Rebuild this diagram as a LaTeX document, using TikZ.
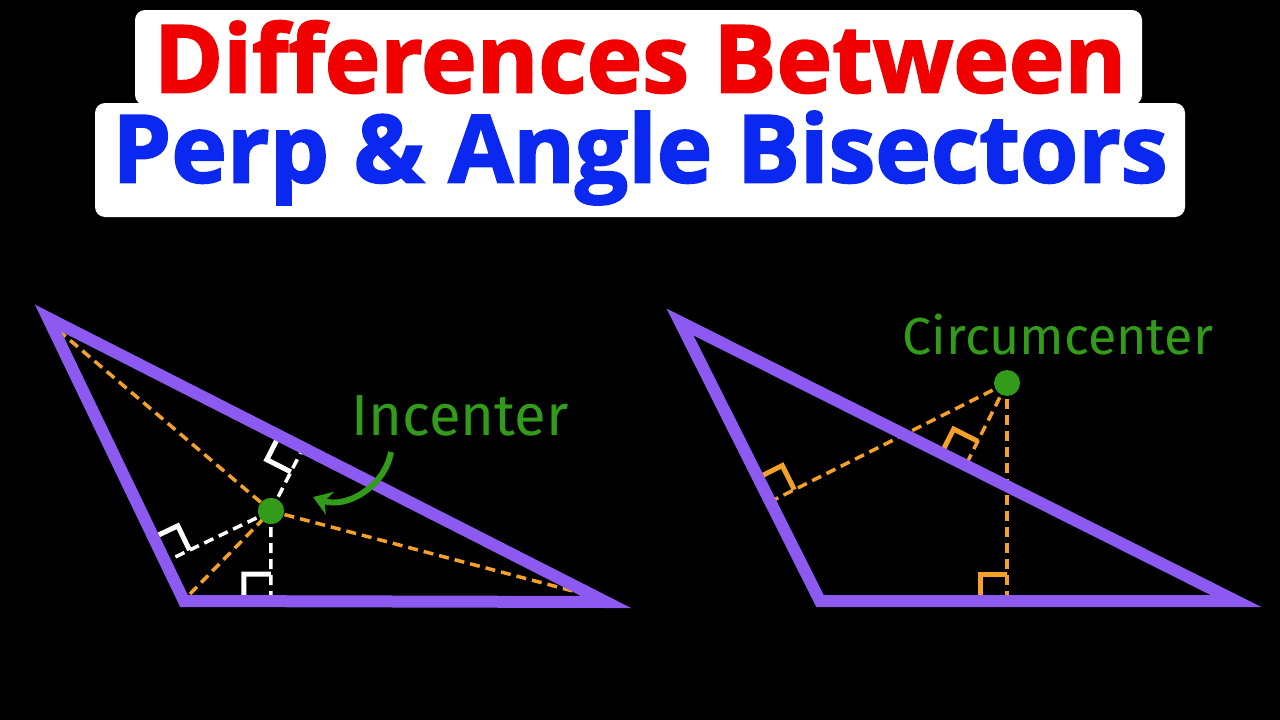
\documentclass[tikz,border=0pt]{standalone}
\usepackage{fontspec}
\setmainfont[BoldFeatures={FakeBold=2}]{Open Sans}
\newfontfamily\hand{Fira Sans}
\usetikzlibrary{calc,arrows.meta}
\definecolor{purp}{RGB}{140,90,240}
\definecolor{orng}{RGB}{245,160,40}
\definecolor{grn}{RGB}{50,155,25}
\definecolor{tred}{RGB}{240,0,0}
\definecolor{tblue}{RGB}{10,40,240}
\tikzset{tri/.style={draw=purp,line width=12pt,line join=miter},
 odash/.style={draw=orng,line width=3.5pt,dash pattern=on 10pt off 6pt},
 wdash/.style={draw=white,line width=3.5pt,dash pattern=on 10pt off 6pt},
 wmark/.style={draw=white,line width=5pt},
 omark/.style={draw=orng,line width=5pt},
 dotc/.style={circle,fill=grn,minimum size=26pt,inner sep=0pt}}
\begin{document}
\begin{tikzpicture}[x=1pt,y=-1pt]
\fill[black] (0,0) rectangle (1280,720);
\useasboundingbox (0,0) rectangle (1280,720);
% title
\fill[white,rounded corners=10pt] (135,10) rectangle (1142,105);
\fill[white,rounded corners=10pt] (95,103) rectangle (1185,217);
\node (t1) at (640,57) {\fontsize{94}{98}\selectfont\bfseries\color{tred}Differences Between};
\node (t2) at (640,158) {\fontsize{94}{98}\selectfont\bfseries\color{tblue}Perp \& Angle Bisectors};
% left triangle
\coordinate (A) at (48,318); \coordinate (B) at (184,601); \coordinate (C) at (606,602);
\node[dotc] (I) at (271,511) {};
\draw[odash] (58,330) -- (I.center);
\draw[odash] (190,594) -- (I.center);
\draw[odash] (588,595) -- (I.center);
\coordinate (F1) at ($(B)!(I)!(C)$);
\coordinate (F2) at ($(A)!(I)!(B)$);
\coordinate (F3) at ($(A)!(I)!(C)$);
\draw[wdash] (I.center) -- (F1);
\draw[wdash] (I.center) -- (F2);
\draw[wdash] (I.center) -- (F3);
\foreach \f/\v in {F1/B,F2/A,F3/A}{
  \coordinate (p1) at ($(\f)!27pt!(\v)$);
  \coordinate (q1) at ($(\f)!27pt!(I)$);
  \draw[wmark] (p1) -- ($(p1)+(q1)-(\f)$) -- (q1);
}
\draw[tri] (A) -- (B) -- (C) -- cycle;
\node[dotc] at (I) {};
\node[text=grn,font=\hand\fontsize{58}{60}\selectfont] (inc) at (460,416) {Incenter};
\draw[grn,line width=6pt,-{Stealth[length=18pt,width=24pt]}] (391,452) to[out=-100,in=-20] (313,497);
% right triangle
\coordinate (A2) at (680,322); \coordinate (B2) at (820,601); \coordinate (C2) at (1236,601);
\coordinate (O) at (1007,383);
\coordinate (G1) at ($(B2)!(O)!(C2)$);
\coordinate (G2) at ($(A2)!(O)!(B2)$);
\coordinate (G3) at ($(A2)!(O)!(C2)$);
\draw[odash] (O) -- (G1);
\draw[odash] (O) -- (G2);
\draw[odash] (O) -- (G3);
\foreach \f/\v in {G1/B2,G2/A2,G3/A2}{
  \coordinate (p1) at ($(\f)!27pt!(\v)$);
  \coordinate (q1) at ($(\f)!27pt!(O)$);
  \draw[omark] (p1) -- ($(p1)+(q1)-(\f)$) -- (q1);
}
\draw[tri] (A2) -- (B2) -- (C2) -- cycle;
\node[dotc] (Oc) at (O) {};
\node[text=grn,font=\hand\fontsize{52}{56}\selectfont] (cir) at (1058,335) {Circumcenter};
\end{tikzpicture}
\end{document}
